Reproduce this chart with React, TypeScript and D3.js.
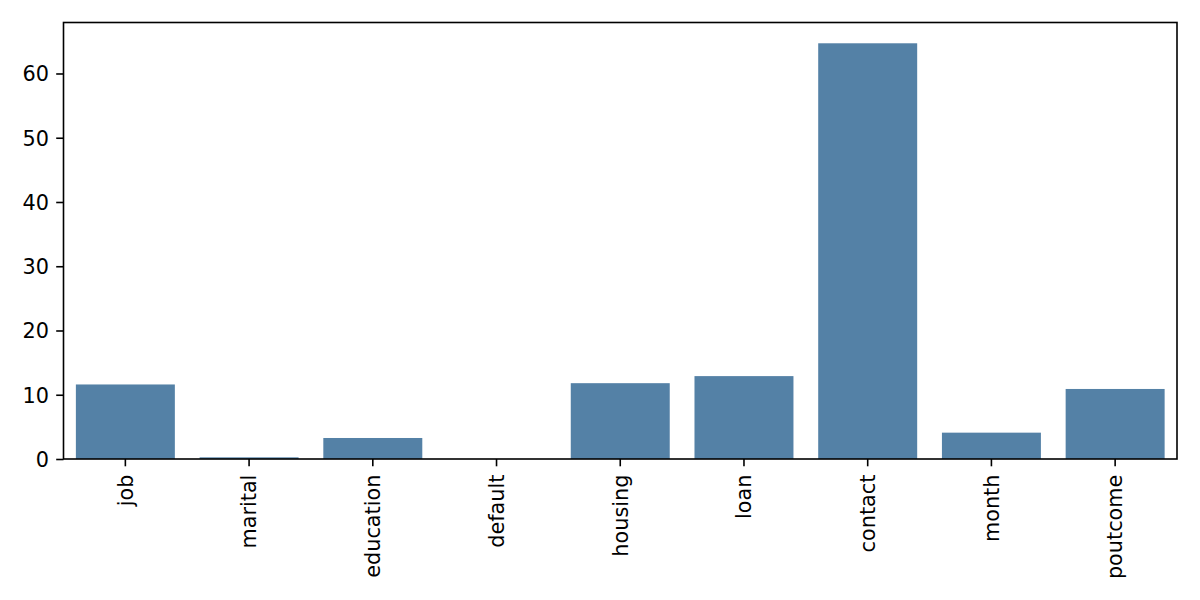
import React, { useEffect, useRef } from 'react'
import { select, scaleBand, scaleLinear, axisLeft, axisBottom } from 'd3'

const categories = ['job', 'marital', 'education', 'default', 'housing', 'loan', 'contact', 'month', 'poutcome']
const values = [11.6, 0.26, 3.27, 0, 11.8, 12.9, 64.7, 4.1, 10.9]
const yTicks = [0, 10, 20, 30, 40, 50, 60]

export default function App(): JSX.Element {
  const WIDTH = 1200
  const HEIGHT = 600
  const M = { left: 63.5, right: 1177, top: 22.5, bottom: 459 }
  const FONT = 'DejaVu Sans, sans-serif'
  const FS = 20.8
  const TICK = 7.3
  const PAD = 7.3
  const COLOR = '#5481a6'

  const svgRef = useRef<SVGSVGElement | null>(null)

  useEffect(() => {
    const svg = select(svgRef.current)
    svg.selectAll('*').remove()

    const x = scaleBand<string>()
      .domain(categories)
      .range([M.left, M.right])
      .paddingInner(0.2)
      .paddingOuter(0.1)

    const yMax = Math.max(...values) * 1.05
    const y = scaleLinear().domain([0, yMax]).range([M.bottom, M.top])

    // bars
    svg
      .append('g')
      .selectAll('rect')
      .data(values)
      .join('rect')
      .attr('x', (_d, i) => x(categories[i]) as number)
      .attr('y', (d) => y(d))
      .attr('width', x.bandwidth())
      .attr('height', (d) => M.bottom - y(d))
      .attr('fill', COLOR)

    // y axis
    const gy = svg
      .append('g')
      .attr('transform', `translate(${M.left},0)`)
      .call(axisLeft(y).tickValues(yTicks).tickFormat((d) => String(d)).tickSize(TICK).tickPadding(PAD))
    gy.select('.domain').remove()

    // x axis
    const gx = svg
      .append('g')
      .attr('transform', `translate(0,${M.bottom})`)
      .call(axisBottom(x).tickSize(TICK).tickPadding(PAD))
    gx.select('.domain').remove()
    gx.selectAll('text')
      .attr('transform', 'rotate(-90)')
      .attr('x', -(TICK + PAD + 1))
      .attr('y', 0)
      .attr('dy', '0.35em')
      .attr('text-anchor', 'end')

    svg.selectAll('.tick line').attr('stroke', '#000').attr('stroke-width', 1.6)
    svg
      .selectAll('.tick text')
      .attr('fill', '#000')
      .attr('font-family', FONT)
      .attr('font-size', FS)
    gy.selectAll('.tick text').attr('dy', '0.35em')

    // frame
    svg
      .append('rect')
      .attr('x', M.left)
      .attr('y', M.top)
      .attr('width', M.right - M.left)
      .attr('height', M.bottom - M.top)
      .attr('fill', 'none')
      .attr('stroke', '#000')
      .attr('stroke-width', 1.6)
    // eslint-disable-next-line react-hooks/exhaustive-deps
  }, [])

  return (
    <svg
      ref={svgRef}
      width={WIDTH}
      height={HEIGHT}
      style={{ position: 'absolute', left: 0, top: 0, background: '#fff' }}
      xmlns="http://www.w3.org/2000/svg"
    />
  )
}
